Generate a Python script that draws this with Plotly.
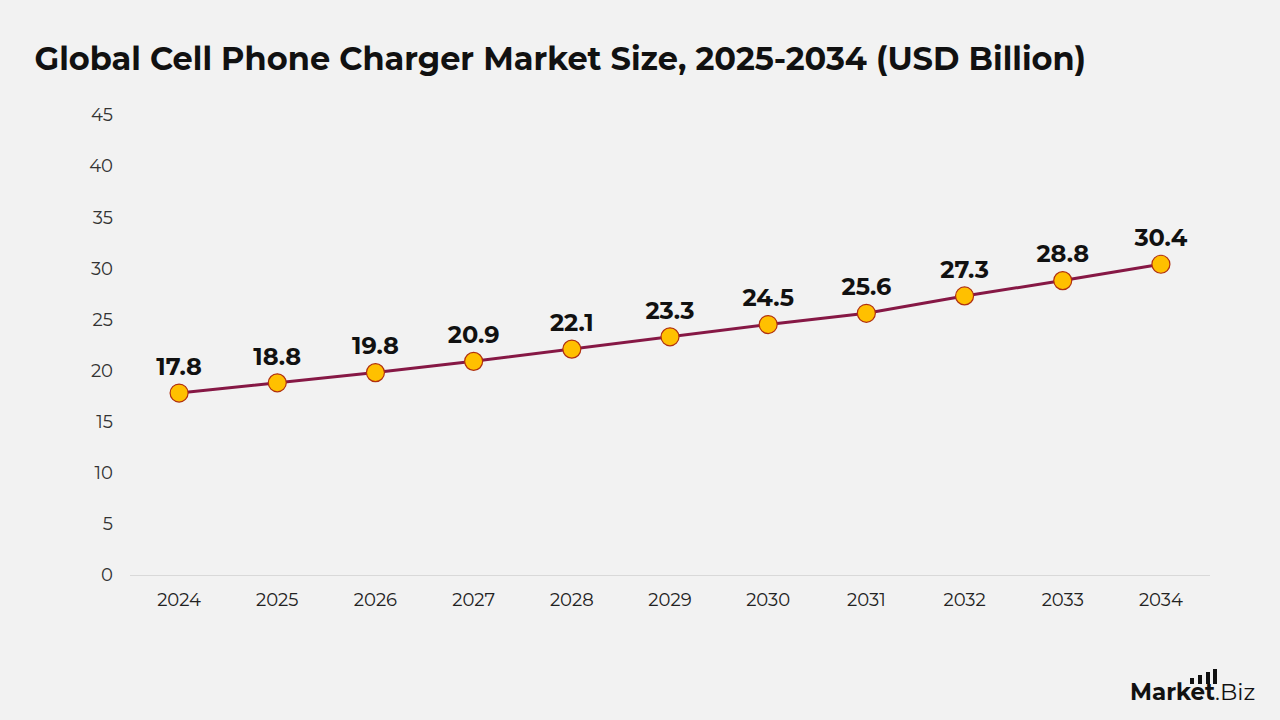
import plotly.graph_objects as go

years = ["2024", "2025", "2026", "2027", "2028", "2029", "2030", "2031", "2032", "2033", "2034"]
values = [17.8, 18.8, 19.8, 20.9, 22.1, 23.3, 24.5, 25.6, 27.3, 28.8, 30.4]
y_ticks = [0, 5, 10, 15, 20, 25, 30, 35, 40, 45]

FONT = "Montserrat, Lato, 'Open Sans', sans-serif"

fig = go.Figure()
fig.add_trace(go.Scatter(
    x=years, y=values,
    mode="lines+markers+text",
    line=dict(color="#861845", width=3),
    marker=dict(size=18, color="#FFC000", line=dict(color="#B03010", width=1.2)),
    text=[f"{v:.1f}" for v in values],
    textposition="top center",
    textfont=dict(family=FONT, size=24, color="#111111", weight="bold"),
    hoverinfo="skip",
    cliponaxis=False,
))

fig.update_layout(
    width=1280, height=720,
    paper_bgcolor="#f2f2f2", plot_bgcolor="#f2f2f2",
    margin=dict(l=130, r=70, t=115, b=145),
    showlegend=False,
    font=dict(family=FONT, color="#222222"),
    title=dict(
        text="<b>Global Cell Phone Charger Market Size, 2025-2034 (USD Billion)</b>",
        x=0.027, xanchor="left", y=0.918, yanchor="middle",
        font=dict(family=FONT, size=32, color="#111111"),
    ),
    xaxis=dict(
        type="category", range=[-0.5, 10.5],
        showgrid=False, showline=True, linecolor="#d9d9d9", linewidth=1,
        ticks="", tickfont=dict(size=18, color="#222222"),
        ticklabelstandoff=8,
        zeroline=False,
    ),
    yaxis=dict(
        range=[0, 45], tickvals=y_ticks,
        showgrid=False, showline=False, zeroline=False,
        ticks="", tickfont=dict(size=18, color="#333333"),
        ticklabelstandoff=16,
    ),
)

fig.add_annotation(
    xref="paper", yref="paper", x=(1257 - 130) / 1080, y=(575 - 692) / 460,
    xanchor="right", yanchor="middle",
    text="<b>Market</b>.Biz", showarrow=False,
    font=dict(family=FONT, size=23, color="#111111"),
)
# small bar-logo above "ket"
for x0, top in [(1190, 678), (1198, 675), (1206, 672), (1213, 669)]:
    fig.add_shape(type="rect", xref="paper", yref="paper",
                  x0=(x0 - 130) / 1080, x1=(x0 + 4 - 130) / 1080,
                  y0=(575 - 684) / 460, y1=(575 - top) / 460,
                  fillcolor="#111111", line=dict(width=0))

fig.write_html("out.html")
